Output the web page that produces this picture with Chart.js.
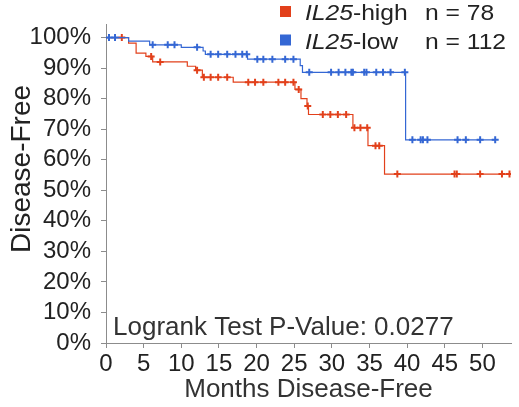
<!DOCTYPE html>
<html>
<head>
<meta charset="utf-8">
<script src="https://cdn.jsdelivr.net/npm/chart.js@4.4.1/dist/chart.umd.min.js"></script>
<style>
  html, body { margin: 0; padding: 0; background: #fff; }
  #wrap { width: 519px; height: 407px; }
</style>
</head>
<body>
<div id="wrap"><canvas id="km"></canvas></div>
<script>
// Kaplan-Meier steps (months, % disease-free)
const highStepMonths = [0, 3.0, 4.0, 5.3, 6.2, 10.8, 11.9, 12.8, 16.9, 25.1, 25.9, 26.7, 26.9, 32.8, 34.8, 37.0, 53.6];
const highStepPct = [100, 98.2, 94.9, 93.8, 92.0, 90.6, 89.3, 87.0, 85.4, 83.0, 80.0, 77.6, 74.8, 70.5, 64.6, 55.3, 55.3];
const highCensorMonths = [2.1, 6.0, 7.2, 12.1, 13.0, 13.9, 14.9, 16.1, 18.9, 19.8, 20.9, 22.9, 23.8, 24.9, 25.6, 26.8,
  28.8, 29.8, 30.8, 31.9, 33.0, 33.8, 34.7, 35.8, 36.3, 38.7, 46.3, 46.6, 49.7, 52.6, 53.6];

const lowStepMonths = [0, 3.0, 5.8, 10.0, 12.9, 13.2, 18.8, 25.8, 26.1, 39.8, 51.7];
const lowStepPct = [100, 98.8, 97.6, 96.8, 95.6, 94.5, 92.9, 90.8, 88.6, 66.5, 66.5];
const lowCensorMonths = [0.4, 1.2, 6.2, 8.2, 9.1, 12.1, 13.9, 14.9, 16.1, 17.2, 18.1, 18.7, 20.1, 20.9, 22.1, 23.8, 24.9,
  27.0, 29.9, 30.9, 31.8, 32.6, 32.8, 34.3, 34.6, 35.9, 36.8, 37.8, 39.7, 40.7, 41.8, 42.1, 42.7, 46.7, 47.8, 49.7, 51.7];

const gene = 'IL25';
const groupNames = ['high', 'low'];
const groupCounts = [78, 112];
const xTickValues = [0, 5, 10, 15, 20, 25, 30, 35, 40, 45, 50];
const yTickValues = [0, 10, 20, 30, 40, 50, 60, 70, 80, 90, 100];
const pValueText = 'Logrank Test P-Value: 0.0277';
const xTitle = 'Months Disease-Free';
const yTitle = 'Disease-Free';

const red = '#e2401b';
const blue = '#3467d4';
const axisColor = '#8c8c8c';
const textColor = '#222';
const family = '"Liberation Sans", Arial, sans-serif';

// survival level at time t (last step at or before t)
function levelAt(months, pct, t) {
    let v = pct[0];
    for (let i = 0; i < months.length; i++) {
        if (months[i] <= t) v = pct[i];
    }
    return v;
}

function stepPoints(months, pct) {
    return months.map((m, i) => ({ x: m, y: pct[i] }));
}

function censorPoints(censors, months, pct) {
    return censors.map(t => ({ x: t, y: levelAt(months, pct, t) }));
}

function drawStretched(ctx, str, x, y, sx) {
    ctx.save();
    ctx.translate(x, y);
    ctx.scale(sx, 1);
    ctx.fillText(str, 0, 0);
    ctx.restore();
    return ctx.measureText(str).width * sx;
}

// legend, p-value and y title
const labelsPlugin = {
    id: 'labels',
    afterDraw(chart) {
        const ctx = chart.ctx;
        ctx.save();
        ctx.textBaseline = 'alphabetic';
        ctx.textAlign = 'left';

        // y axis title
        ctx.save();
        ctx.translate(30, 169);
        ctx.rotate(-Math.PI / 2);
        ctx.textAlign = 'center';
        ctx.fillStyle = textColor;
        ctx.font = '28px ' + family;
        ctx.fillText(yTitle, 0, 0);
        ctx.restore();

        // p-value
        ctx.fillStyle = '#333';
        ctx.font = '26px ' + family;
        ctx.fillText(pValueText, 113, 335);

        // legend
        const colors = [red, blue];
        const baselines = [20, 48.5];
        groupNames.forEach((g, i) => {
            const by = baselines[i];
            ctx.fillStyle = colors[i];
            ctx.fillRect(280, by - 14, 11, 11);
            ctx.fillStyle = textColor;
            ctx.font = 'italic 22px ' + family;
            const w = drawStretched(ctx, gene, 305, by, 1.12);
            ctx.font = '22px ' + family;
            drawStretched(ctx, '-' + g, 305 + w, by, 1.12);
            drawStretched(ctx, 'n = ' + groupCounts[i], 425, by, 1.12);
        });
        ctx.restore();
    }
};

const axisGrid = {
    drawOnChartArea: false,
    drawTicks: true,
    tickLength: 5,
    color: axisColor
};

new Chart(document.getElementById('km'), {
    type: 'scatter',
    data: {
        datasets: [
            {
                data: stepPoints(lowStepMonths, lowStepPct),
                showLine: true,
                stepped: true,
                borderColor: blue,
                borderWidth: 1.2,
                pointRadius: 0
            },
            {
                data: censorPoints(lowCensorMonths, lowStepMonths, lowStepPct),
                showLine: false,
                pointStyle: 'cross',
                pointRadius: 3.5,
                borderWidth: 2,
                borderColor: blue
            },
            {
                data: stepPoints(highStepMonths, highStepPct),
                showLine: true,
                stepped: true,
                borderColor: red,
                borderWidth: 1.2,
                pointRadius: 0
            },
            {
                data: censorPoints(highCensorMonths, highStepMonths, highStepPct),
                showLine: false,
                pointStyle: 'cross',
                pointRadius: 3.5,
                borderWidth: 2,
                borderColor: red
            }
        ]
    },
    options: {
        responsive: true,
        maintainAspectRatio: false,
        animation: false,
        devicePixelRatio: 1,
        layout: { padding: { top: 22, right: 8, left: 0, bottom: 0 } },
        plugins: {
            legend: { display: false },
            tooltip: { enabled: false }
        },
        scales: {
            x: {
                type: 'linear',
                min: 0,
                max: 53.8,
                grid: axisGrid,
                border: { color: axisColor, width: 1 },
                afterBuildTicks: scale => { scale.ticks = xTickValues.map(v => ({ value: v })); },
                afterFit: scale => { scale.height = 64; },
                ticks: {
                    color: textColor,
                    font: { family: family, size: 24 },
                    padding: 2,
                    maxRotation: 0
                },
                title: {
                    display: true,
                    text: xTitle,
                    color: '#333',
                    font: { family: family, size: 26 },
                    padding: { top: 0, bottom: 2 }
                }
            },
            y: {
                type: 'linear',
                min: 0,
                max: 104.3,
                grid: axisGrid,
                border: { color: axisColor, width: 1 },
                afterBuildTicks: scale => { scale.ticks = yTickValues.map(v => ({ value: v })); },
                afterFit: scale => { scale.width = 106; },
                ticks: {
                    color: textColor,
                    font: { family: family, size: 24 },
                    padding: 10,
                    callback: v => v + '%'
                }
            }
        }
    },
    plugins: [labelsPlugin]
});
</script>
</body>
</html>
